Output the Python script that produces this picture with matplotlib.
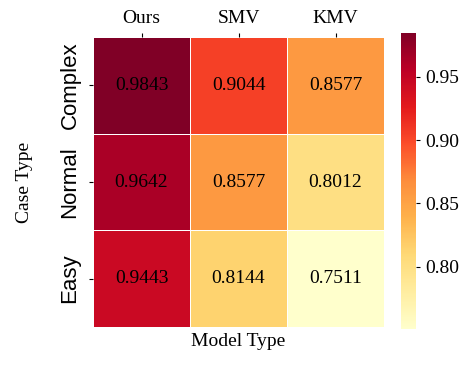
import numpy as np
import matplotlib
matplotlib.use("Agg")
import matplotlib.pyplot as plt
import seaborn as sns

models = ["Ours", "SMV", "KMV"]
cases = ["Complex", "Normal", "Easy"]
ours = [0.9843, 0.9642, 0.9443]
smv = [0.9044, 0.8577, 0.8144]
kmv = [0.8577, 0.8012, 0.7511]

data = np.array([ours, smv, kmv]).T

plt.rcParams['font.family'] = ['Liberation Serif', 'DejaVu Serif']

fig = plt.figure(figsize=(4.74, 3.69), dpi=100)
ax = fig.add_axes([93/474, 42/369, 291/474, 290/369])
cax = fig.add_axes([401/474, 40/369, 15/474, 296/369])

sns.heatmap(data, ax=ax, cbar_ax=cax, cmap="YlOrRd", annot=True, fmt=".4f",
            annot_kws={"size": 14, "color": "black"},
            linewidths=0.7, linecolor="white",
            xticklabels=models, yticklabels=cases)

ax.xaxis.tick_top()
ax.xaxis.set_label_position("bottom")
ax.tick_params(axis="x", labelsize=14, length=3, pad=4)
ax.tick_params(axis="y", length=3, pad=6)
for lab in ax.get_yticklabels():
    lab.set_family(['Liberation Sans', 'DejaVu Sans'])
    lab.set_fontsize(16)
    lab.set_rotation(90)
    lab.set_va("center")
ax.set_xlabel("Model Type", fontsize=14, labelpad=4)
ax.set_ylabel("Case Type", fontsize=14, labelpad=19)

cax.tick_params(labelsize=14, length=3)
cax.set_yticks([0.80, 0.85, 0.90, 0.95])
cax.set_yticklabels(["0.80", "0.85", "0.90", "0.95"])

fig.savefig("out.png", dpi=100)
